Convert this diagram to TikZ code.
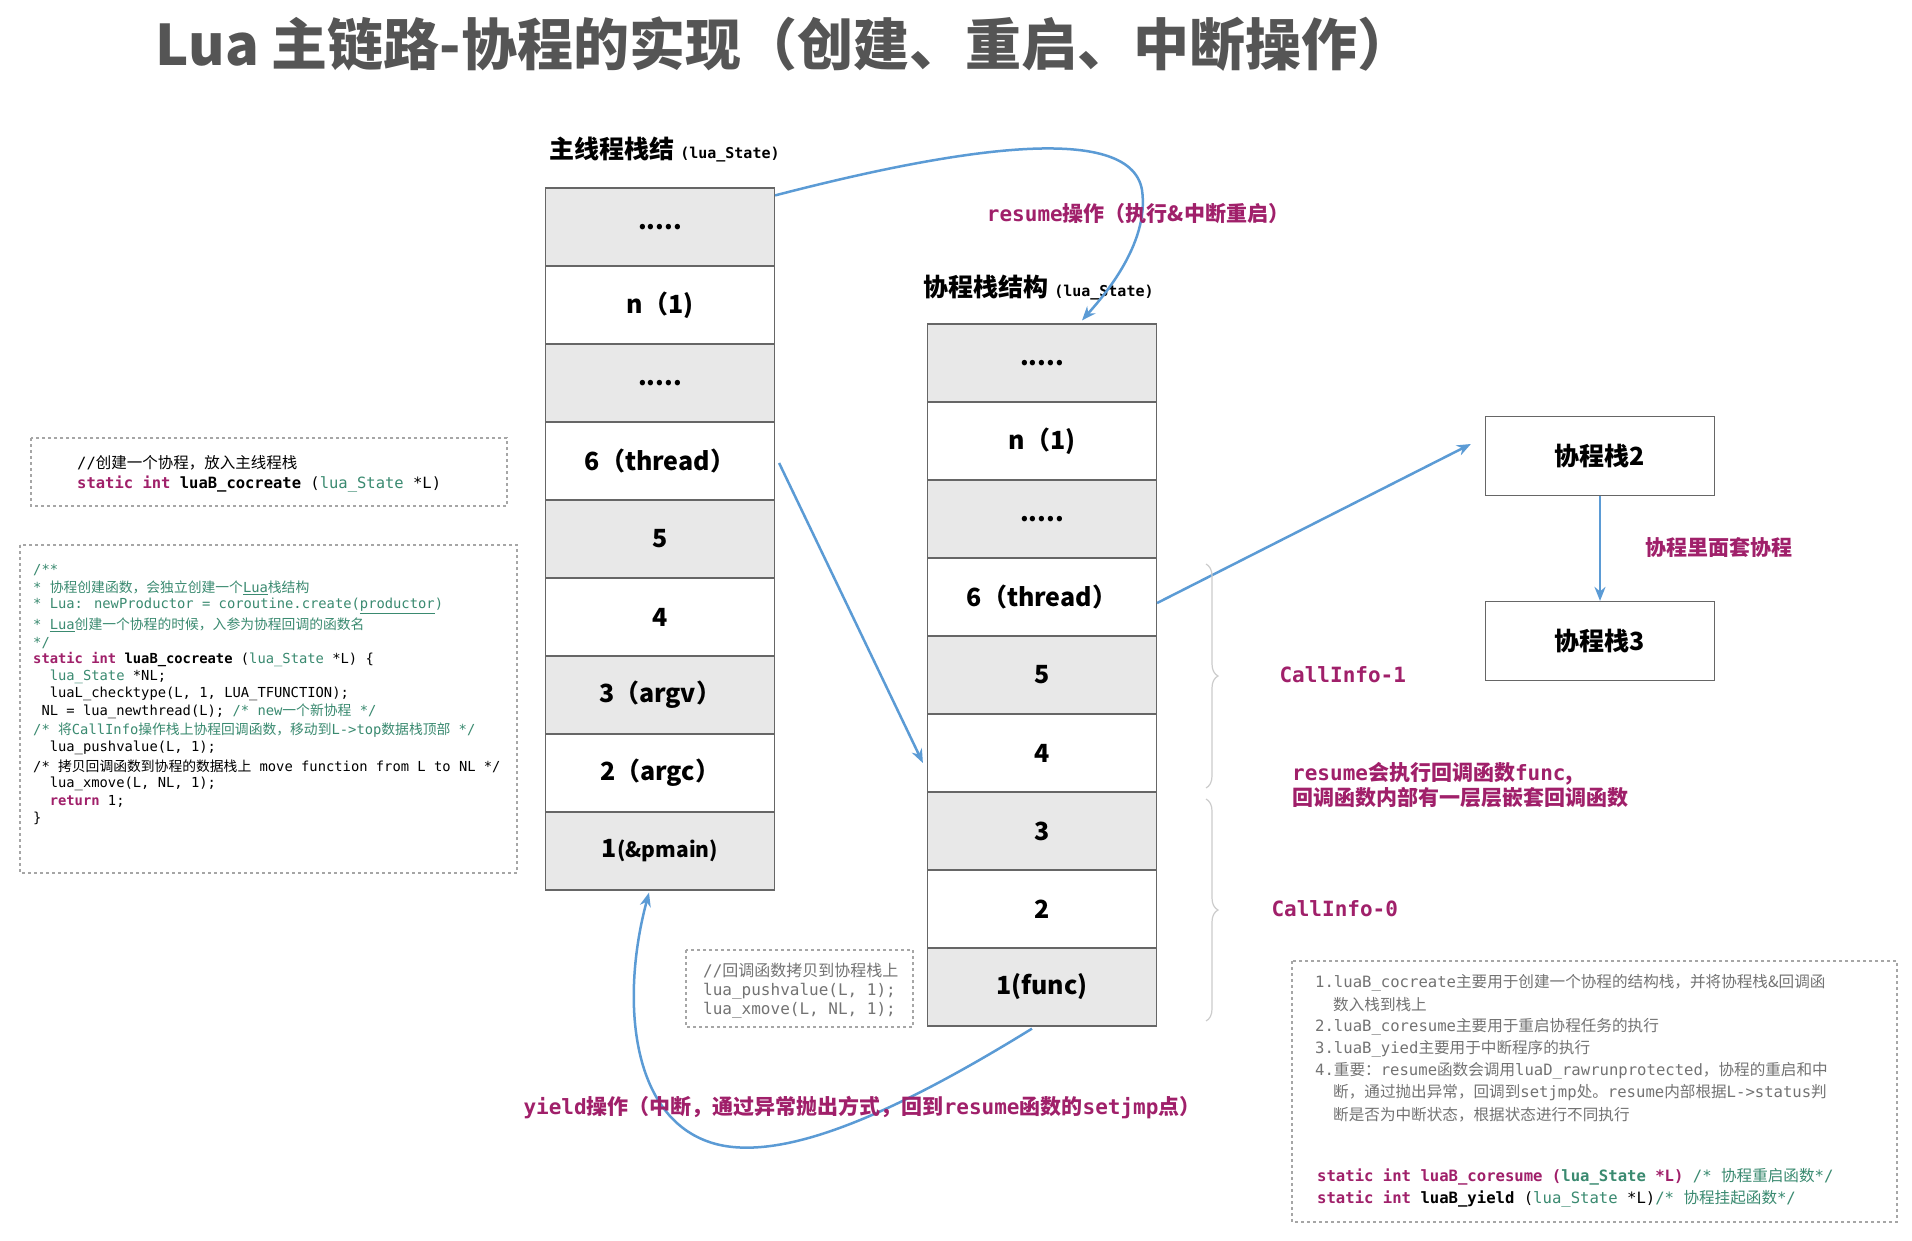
\documentclass[tikz,border=0pt]{standalone}
\usepackage{fontspec}
\setmainfont{Liberation Sans}
\newfontfamily\cjk{Noto Sans CJK SC}
\newfontfamily\mono{DejaVu Sans Mono}
\usetikzlibrary{decorations.pathreplacing,calc,arrows.meta}
\definecolor{pur}{HTML}{A0206A}
\definecolor{grn}{HTML}{3A8A70}
\definecolor{blu}{HTML}{5B9BD5}
\definecolor{cellg}{HTML}{E8E8E8}
\definecolor{ttl}{HTML}{555555}
\tikzset{
 cell/.style={draw=gray!80!black,line width=1.2pt,minimum width=229pt,minimum height=78pt,inner sep=0pt,font=\cjk\bfseries\fontsize{25}{28}\selectfont},
 sbox/.style={draw=gray!80!black,line width=1.2pt,minimum width=229pt,minimum height=79pt,font=\cjk\bfseries\fontsize{25}{28}\selectfont},
 dbox/.style={draw=gray!70,dashed,line width=1.3pt},
 arr/.style={draw=blu,line width=2.5pt,-{Stealth[length=14pt,width=11pt]}},
 code/.style={anchor=west,inner sep=0pt,font=\mono\fontsize{13.8}{15}\selectfont},
 note/.style={anchor=west,inner sep=0pt,font=\mono\fontsize{15.6}{18}\selectfont,text=gray!90!black},
 plab/.style={text=pur,font=\cjk\bfseries\fontsize{21}{25}\selectfont},
 brc/.style={draw=gray!40,line width=1.2pt,decorate,decoration={brace,amplitude=12pt}}
}
\begin{document}
\begin{tikzpicture}[x=1pt,y=-1pt]
\useasboundingbox[fill=white] (0,0) rectangle (1912,1240);
\node[anchor=west,text=ttl,font=\cjk\bfseries\fontsize{56}{60}\selectfont] (title) at (152,44) {Lua 主链路-协程的实现（创建、重启、中断操作）};
% main stack
\node[anchor=west,font=\cjk\bfseries\fontsize{25}{28}\selectfont] (mlab) at (546,150) {主线程栈结 {\mono\bfseries\fontsize{15}{16}\selectfont (lua\_State)}};
\foreach \i/\t/\c in {1/{.....}/cellg,2/{n（1)}/white,3/{.....}/cellg,4/{6（thread）}/white,5/{5}/cellg,6/{4}/white,7/{3（argv）}/cellg,8/{2（argc）}/white,9/{1{\fontsize{21}{24}\selectfont(\&pmain)}}/cellg}
  \node[cell,fill=\c] (m\i) at (660,{188+39+78*(\i-1)}) {\t};
% coroutine stack
\node[anchor=west,font=\cjk\bfseries\fontsize{25}{28}\selectfont] (clab) at (920,288) {协程栈结构 {\mono\bfseries\fontsize{15}{16}\selectfont (lua\_State)}};
\foreach \i/\t/\c in {1/{.....}/cellg,2/{n（1)}/white,3/{.....}/cellg,4/{6（thread）}/white,5/{5}/cellg,6/{4}/white,7/{3}/cellg,8/{2}/white,9/{1(func)}/cellg}
  \node[cell,fill=\c] (c\i) at (1042,{324+39+78*(\i-1)}) {\t};
% coroutine 2/3
\node[sbox] (s2) at (1600,456) {协程栈2};
\node[sbox] (s3) at (1600,641) {协程栈3};
\draw[arr] (s2) -- (s3);
\node[plab,anchor=west] (nest) at (1642,548) {协程里面套协程};
% arrows
\draw[arr] ($(c4.east)+(0,6)$) -- ($(s2.west)+(-14,-12)$);
\draw[arr] ($(m4.east)+(4,2)$) -- ($(c6.west)+(-4,10)$);
\draw[arr] ($(m1.north east)+(0,8)$) .. controls (950,150) and (1130,120) .. (1142,190) .. controls (1150,245) and (1100,300) .. ($(c1.north)+(40,-3)$);
\node[plab] (reslab) at (1138,214) {{\mono resume}操作（执行\&中断重启）};
\draw[arr] ($(c9.south)+(-10,2)$) .. controls (900,1110) and (790,1160) .. (720,1145) .. controls (630,1125) and (620,1000) .. ($(m9.south)+(-11,2)$);
\node[plab] (ylab) at (862,1108) {{\mono yield}操作（中断，通过异常抛出方式，回到{\mono resume}函数的{\mono setjmp}点）};
% braces
\draw[brc] (1206,564) -- (1206,788);
\draw[brc] (1206,799) -- (1206,1021);
\node[plab,anchor=west,font=\mono\bfseries\fontsize{21}{25}\selectfont] (ci1) at (1276,675) {CallInfo-1};
\node[plab,anchor=west,font=\mono\bfseries\fontsize{21}{25}\selectfont] (ci0) at (1268,909) {CallInfo-0};
\node[plab,anchor=north west,align=left,inner sep=0pt] (rfunc) at (1292,762) {{\mono resume}会执行回调函数{\mono func},\\回调函数内部有一层层嵌套回调函数};
% left small box
\draw[dbox] (31,438) rectangle (507,506);
\node[code,font=\mono\fontsize{15.5}{18}\selectfont] (l1) at (77,463) {//{\cjk 创建一个协程，放入主线程栈}};
\node[code,font=\mono\fontsize{15.5}{18}\selectfont] (l2) at (77,484) {{\bfseries\color{pur}static int} {\bfseries luaB\_cocreate} ({\color{grn}lua\_State} *L)};
% big code box
\draw[dbox] (20,545) rectangle (517,873);
\node[code,text=grn] at (33,570) {/**};
\node[code,text=grn] at (33,588) { * {\cjk 协程创建函数，会独立创建一个}\underline{Lua}{\cjk 栈结构}};
\node[code,text=grn] at (33,606) { * Lua: newProductor = coroutine.create(\underline{productor})};
\node[code,text=grn] at (33,625) { * \underline{Lua}{\cjk 创建一个协程的时候，入参为协程回调的函数名}};
\node[code,text=grn] at (33,643) { */};
\node[code] at (33,660) {{\bfseries\color{pur}static int} {\bfseries luaB\_cocreate} ({\color{grn}lua\_State} *L) \{};
\node[code] at (33,677) {\ \ {\color{grn}lua\_State} *NL;};
\node[code] at (33,694) {\ \ luaL\_checktype(L, 1, LUA\_TFUNCTION);};
\node[code] at (33,711) {\ NL = lua\_newthread(L); {\color{grn}/* new{\cjk 一个新协程} */}};
\node[code,text=grn] at (33,730) {/* {\cjk 将}CallInfo{\cjk 操作栈上协程回调函数，移动到}L->top{\cjk 数据栈顶部} */};
\node[code] at (33,748) {\ \ lua\_pushvalue(L, 1);};
\node[code] at (33,766) {/* {\cjk 拷贝回调函数到协程的数据栈上} move function from L to NL */};
\node[code] at (33,784) {\ \ lua\_xmove(L, NL, 1);};
\node[code] at (33,801) {\ \ {\bfseries\color{pur}return} 1;};
\node[code] at (33,818) {\}};
% middle small box
\draw[dbox] (686,950) rectangle (913,1027);
\node[note,font=\mono\fontsize{16}{18}\selectfont] at (703,971) {//{\cjk 回调函数拷贝到协程栈上}};
\node[note,font=\mono\fontsize{16}{18}\selectfont] at (703,991) {lua\_pushvalue(L, 1);};
\node[note,font=\mono\fontsize{16}{18}\selectfont] at (703,1010) {lua\_xmove(L, NL, 1);};
% bottom right box
\draw[dbox] (1292,961) rectangle (1897,1222);
\node[note] at (1315,983) {1.luaB\_cocreate{\cjk 主要用于创建一个协程的结构栈，并将协程栈\&回调函}};
\node[note] at (1333,1005) {{\cjk 数入栈到栈上}};
\node[note] at (1315,1027) {2.luaB\_coresume{\cjk 主要用于重启协程任务的执行}};
\node[note] at (1315,1049) {3.luaB\_yied{\cjk 主要用于中断程序的执行}};
\node[note] at (1315,1071) {4.{\cjk 重要：}resume{\cjk 函数会调用}luaD\_rawrunprotected{\cjk ，协程的重启和中}};
\node[note] at (1333,1093) {{\cjk 断，通过抛出异常，回调到}setjmp{\cjk 处。}resume{\cjk 内部根据}L->status{\cjk 判}};
\node[note] at (1333,1115) {{\cjk 断是否为中断状态，根据状态进行不同执行}};
\node[note,text=black] at (1317,1177) {{\bfseries\color{pur}static int luaB\_coresume (}{\bfseries\color{grn}lua\_State} {\bfseries\color{pur}*L)} {\color{grn}/* {\cjk 协程重启函数}*/}};
\node[note,text=black] at (1317,1199) {{\bfseries\color{pur}static int} {\bfseries luaB\_yield} ({\color{grn}lua\_State} *L){\color{grn}/* {\cjk 协程挂起函数}*/}};
\end{tikzpicture}
\end{document}
